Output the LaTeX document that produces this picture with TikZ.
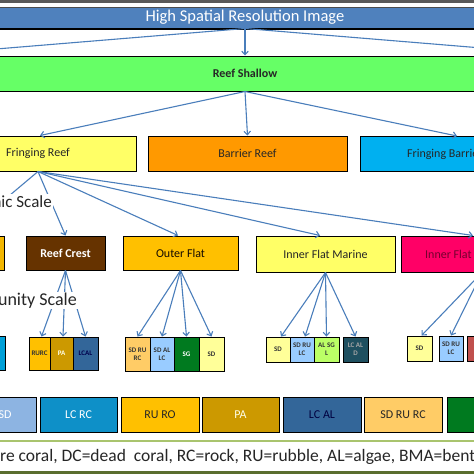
\documentclass[tikz,border=0pt]{standalone}
\usepackage{fontspec}
\setmainfont{Carlito}
\usetikzlibrary{arrows.meta}
\definecolor{lineblue}{HTML}{4A7EBB}
\definecolor{titleblue}{HTML}{4F81BD}
\definecolor{rsgreen}{HTML}{66FF66}
\definecolor{ltyellow}{HTML}{FFFF66}
\definecolor{paleyellow}{HTML}{FFFF99}
\definecolor{orangeb}{HTML}{FF9900}
\definecolor{skyb}{HTML}{00B0F0}
\definecolor{gold}{HTML}{FFC000}
\definecolor{brown}{HTML}{663300}
\definecolor{magentab}{HTML}{FF0066}
\definecolor{cyanb}{HTML}{00A0D8}
\definecolor{darkgold}{HTML}{CC9900}
\definecolor{steel}{HTML}{336699}
\definecolor{peach}{HTML}{FFCC66}
\definecolor{ltblue}{HTML}{99CCFF}
\definecolor{sggreen}{HTML}{007A1F}
\definecolor{lime}{HTML}{BBFF66}
\definecolor{teal}{HTML}{1F5060}
\definecolor{redb}{HTML}{C0504D}
\definecolor{sdblue}{HTML}{8DB4E2}
\definecolor{lcblue}{HTML}{0E90C8}
\definecolor{bandtop}{HTML}{A9C46E}
\definecolor{bandbot}{HTML}{5A6E2E}
\begin{document}
\begin{tikzpicture}[x=1pt,y=-1pt,
  box/.style={draw=black, line width=1pt, inner sep=0pt, align=center,
    font=\fontsize{12}{14}\selectfont, text=black!85},
  sbox/.style={draw=black, line width=0.9pt, inner sep=0pt, align=center,
    font=\fontsize{7}{8}\selectfont\bfseries, text=black!80},
  conn/.style={draw=lineblue, line width=1.1pt, -{Straight Barb[length=3.5pt,width=6.5pt]}},
  plain/.style={draw=lineblue, line width=1.1pt},
  scalelabel/.style={fill=white, inner sep=1pt, anchor=base east,
    font=\fontsize{18}{20}\selectfont, text=black!85}
]
\useasboundingbox (0,0) rectangle (474,474);
\clip (0,0) rectangle (474,474);
\fill[white] (0,0) rectangle (474,474);
\fill[black!65] (-5,0) rectangle (480,2.5);

% top levels
\node[box, fill=titleblue, draw=black!70, minimum width=510pt, minimum height=21pt,
  text=white, font=\fontsize{16.5}{18}\selectfont] (title) at (245,17.5) {High Spatial Resolution Image};
\draw[line width=2pt] (title.south west) -- (title.south east);
\node[box, fill=rsgreen, minimum width=510pt, minimum height=35pt, font=\fontsize{12}{14}\selectfont\bfseries] (rs) at (245,73.5) {Reef Shallow};

\node[box, fill=ltyellow, minimum width=196pt, minimum height=35pt] (fr) at (38,153.5) {Fringing Reef};
\node[box, fill=orangeb, minimum width=199pt, minimum height=35pt] (br) at (247.5,153.5) {Barrier Reef};
\node[box, fill=skyb, minimum width=194pt, minimum height=35pt] (fb) at (457,154) {Fringing Barrier Reef};

% geomorphic row
\node[box, fill=gold!95!black, minimum width=84pt, minimum height=34pt] (gl) at (-38,253) {};
\node[box, fill=brown, minimum width=79pt, minimum height=34pt, text=white, font=\fontsize{12}{14}\selectfont\bfseries] (rc) at (65.5,253) {Reef Crest};
\node[box, fill=gold, minimum width=115pt, minimum height=34pt, text=black!80!brown] (of) at (180.5,253) {Outer Flat};
\node[box, fill=ltyellow, minimum width=139pt, minimum height=36pt] (imf) at (325.5,254) {Inner Flat Marine};
\node[box, fill=magentab, minimum width=162pt, minimum height=36pt] (if) at (482,254) {};
\node[anchor=west, inner sep=0pt, font=\fontsize{12}{14}\selectfont, text=black!55!magentab] (iftext) at (425,254) {Inner Flat};

% community row
\node[box, fill=cyanb, minimum width=65pt, minimum height=34pt] (cl) at (-27.5,353) {};
\node[sbox, fill=gold, minimum width=21pt, minimum height=33pt] (c1) at (39.5,353.5) {RURC};
\node[sbox, fill=darkgold, minimum width=23pt, minimum height=33pt, text=white!90!yellow] (c2) at (61.5,353.5) {PA};
\node[sbox, fill=steel, minimum width=25pt, minimum height=33pt, text=blue!30!black] (c3) at (85.5,353.5) {LCAL};

\node[sbox, fill=peach, minimum width=25pt, minimum height=34pt] (o1) at (137.5,354) {SD RU\\RC};
\node[sbox, fill=ltblue, minimum width=24pt, minimum height=34pt] (o2) at (162,354) {SD AL\\LC};
\node[sbox, fill=sggreen, minimum width=25pt, minimum height=34pt, text=white] (o3) at (186.5,354) {SG};
\node[sbox, fill=paleyellow, minimum width=25pt, minimum height=34pt] (o4) at (211.5,354) {SD};

\node[sbox, fill=paleyellow, minimum width=24pt, minimum height=25pt] (m1) at (278,349.5) {SD};
\node[sbox, fill=ltblue, minimum width=24pt, minimum height=25pt] (m2) at (302,349.5) {SD RU\\LC};
\node[sbox, fill=lime, minimum width=25pt, minimum height=25pt] (m3) at (326.5,349.5) {AL SG\\L};
\node[sbox, fill=teal, minimum width=25pt, minimum height=25pt, text=black!35] (m4) at (355.5,349.5) {LC AL\\D};

\node[sbox, fill=paleyellow, minimum width=25pt, minimum height=25pt] (f1) at (419.5,348.5) {SD};
\node[sbox, fill=ltblue, minimum width=24pt, minimum height=25pt] (f2) at (451,348.5) {SD RU\\LC};
\node[sbox, fill=redb, minimum width=24pt, minimum height=25pt] (f3) at (479,348.5) {};

% legend row
\node[box, fill=sdblue, minimum width=62pt, minimum height=35pt, text=white] (l1) at (5,414.5) {SD};
\node[box, fill=lcblue, minimum width=77pt, minimum height=35pt, text=white] (l2) at (78.5,414.5) {LC RC};
\node[box, fill=gold, minimum width=78pt, minimum height=35pt] (l3) at (160,414.5) {RU RO};
\node[box, fill=darkgold, minimum width=77pt, minimum height=35pt, text=white!90!yellow] (l4) at (240.5,414.5) {PA};
\node[box, fill=steel, minimum width=78pt, minimum height=35pt, text=blue!25!black] (l5) at (322,414.5) {LC AL};
\node[box, fill=peach, minimum width=78pt, minimum height=35pt] (l6) at (403,414.5) {SD RU RC};
\node[box, fill=sggreen, minimum width=78pt, minimum height=35pt] (l7) at (486,414.5) {};

% legend band
\draw[bandtop, line width=1.3pt] (-5,441) -- (480,441);
\draw[bandbot, line width=3pt] (-5,472.5) -- (480,472.5);
\node[anchor=base west, inner sep=0pt, font=\fontsize{17.5}{20}\selectfont, text=black!85] (legend) at (0,461)
  {\llap{LC=live co}re coral, DC=dead\hspace{4pt} coral, RC=rock, RU=rubble, AL=algae, BMA=benthic microalgae};

% connectors
\coordinate (tl) at (-10,49.5);
\coordinate (tr) at (500,49.5);
\draw[plain] (title.south) -- (tl);
\draw[plain] (title.south) -- (tr);
\draw[conn] (title.south) -- (rs.north);
\draw[conn] (rs.south) -- ([xshift=2pt]fr.north);
\draw[conn] (rs.south) -- (br.north);
\draw[conn] (rs.south) -- (fb.north);

\draw[conn] (fr.south) -- (gl.north);
\draw[conn] (fr.south) -- (rc.north);
\draw[conn] (fr.south) -- ([xshift=-2.5pt]of.north);
\draw[conn] (fr.south) -- ([xshift=-5.5pt]imf.north);
\draw[conn] (fr.south) -- ([xshift=-9pt]if.north);

\draw[conn] (rc.south) -- ([xshift=2pt]c1.north);
\draw[conn] (rc.south) -- ([xshift=1.5pt]c2.north);
\draw[conn] (rc.south) -- (c3.north);

\draw[conn] (of.south) -- (o1.north);
\draw[conn] (of.south) -- (o2.north);
\draw[conn] (of.south) -- (o3.north);
\draw[conn] (of.south) -- (o4.north);

\draw[conn] (imf.south) -- ([xshift=3pt]m1.north);
\draw[conn] (imf.south) -- ([xshift=3pt]m2.north);
\draw[conn] (imf.south) -- (m3.north);
\draw[conn] (imf.south) -- (m4.north);

\draw[conn] (if.south) -- ([xshift=2pt]f1.north);
\draw[conn] (if.south) -- (f2.north);

% scale labels
\node[scalelabel, font=\fontsize{17}{19}\selectfont] (geo) at (53,207) {Geomorphic Scale};
\node[scalelabel] (com) at (78,305) {Community Scale};
\end{tikzpicture}
\end{document}
